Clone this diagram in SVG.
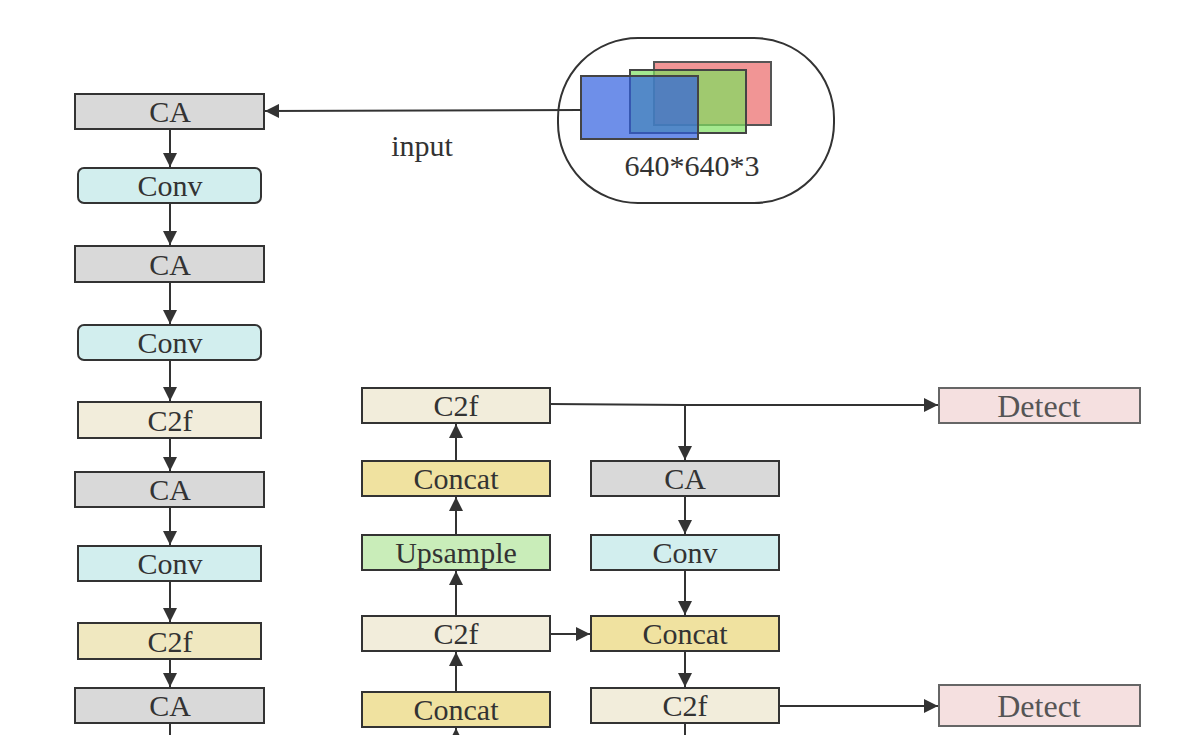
<svg xmlns="http://www.w3.org/2000/svg" width="1177" height="735" viewBox="0 0 1177 735">
<style>
.n rect{stroke:#333;stroke-width:2}
.ca{fill:#d9d9d9}.cv{fill:#d2eeee}.cf{fill:#f2eddb}.cf2{fill:#f0e8c0}.cc{fill:#f0e2a0}.up{fill:#c9edb9}
.dt{fill:#f5e0e0;stroke:#666!important}
text{font-family:"Liberation Serif",serif;font-size:30px;fill:#333;text-anchor:middle}
.c line,.c path{stroke:#333;stroke-width:2;fill:none}
</style>
<defs>
<marker id="b" viewBox="0 0 10 10" refX="10" refY="5" markerWidth="16" markerHeight="14" orient="auto" markerUnits="userSpaceOnUse"><path d="M0,0L10,5L0,10z" fill="#333"/></marker></defs>
<rect width="1177" height="735" fill="#fff"/>
<g id="input"><rect x="558" y="38" width="276" height="165" rx="80" fill="#fff" stroke="#333" stroke-width="2"/>
<rect x="654" y="62" width="117" height="63" fill="#ee7a7a" fill-opacity="0.8" stroke="#555" stroke-width="2"/>
<rect x="630" y="70" width="116" height="63" fill="#7ee060" fill-opacity="0.7" stroke="#444" stroke-width="2"/>
<rect x="581" y="76" width="117" height="63" fill="#3060e0" fill-opacity="0.7" stroke="#444" stroke-width="2"/>
<text x="692" y="176" font-size="24">640*640*3</text></g>
<text x="422" y="156" font-size="34">input</text>
<g class="c">
<line x1="581" y1="110" x2="265" y2="111" marker-end="url(#b)"/>
<line x1="170" y1="129" x2="170" y2="167" marker-end="url(#b)"/>
<line x1="170" y1="203" x2="170" y2="245" marker-end="url(#b)"/>
<line x1="170" y1="282" x2="170" y2="324" marker-end="url(#b)"/>
<line x1="170" y1="360" x2="170" y2="401" marker-end="url(#b)"/>
<line x1="170" y1="438" x2="170" y2="471" marker-end="url(#b)"/>
<line x1="170" y1="507" x2="170" y2="545" marker-end="url(#b)"/>
<line x1="170" y1="581" x2="170" y2="622" marker-end="url(#b)"/>
<line x1="170" y1="659" x2="170" y2="687" marker-end="url(#b)"/>
<line x1="170" y1="723" x2="170" y2="735"/>
<line x1="456" y1="735" x2="456" y2="728" marker-end="url(#b)"/>
<line x1="456" y1="692" x2="456" y2="652" marker-end="url(#b)"/>
<line x1="456" y1="616" x2="456" y2="571" marker-end="url(#b)"/>
<line x1="456" y1="535" x2="456" y2="497" marker-end="url(#b)"/>
<line x1="456" y1="461" x2="456" y2="424" marker-end="url(#b)"/>
<line x1="550" y1="634" x2="590" y2="634" marker-end="url(#b)"/>
<path d="M550,404L685,405L938,405" marker-end="url(#b)"/>
<line x1="685" y1="405" x2="685" y2="460" marker-end="url(#b)"/>
<line x1="685" y1="496" x2="685" y2="534" marker-end="url(#b)"/>
<line x1="685" y1="570" x2="685" y2="615" marker-end="url(#b)"/>
<line x1="685" y1="651" x2="685" y2="687" marker-end="url(#b)"/>
<line x1="685" y1="723" x2="685" y2="735"/>
<line x1="779" y1="706" x2="938" y2="706" marker-end="url(#b)"/>
</g>
<g id="ca1" class="n"><rect class="ca" x="75" y="94" width="189" height="35"/><text x="170" y="122">CA</text></g>
<g id="conv1" class="n"><rect class="cv" x="78" y="168" width="183" height="35" rx="6"/><text x="170" y="196">Conv</text></g>
<g id="ca2" class="n"><rect class="ca" x="75" y="246" width="189" height="36"/><text x="170" y="275">CA</text></g>
<g id="conv2" class="n"><rect class="cv" x="78" y="325" width="183" height="35" rx="6"/><text x="170" y="353">Conv</text></g>
<g id="c2f1" class="n"><rect class="cf" x="78" y="402" width="183" height="36"/><text x="170" y="431">C2f</text></g>
<g id="ca3" class="n"><rect class="ca" x="75" y="472" width="189" height="35"/><text x="170" y="500">CA</text></g>
<g id="conv3" class="n"><rect class="cv" x="78" y="546" width="183" height="35"/><text x="170" y="574">Conv</text></g>
<g id="c2f2" class="n"><rect class="cf2" x="78" y="623" width="183" height="36"/><text x="170" y="652">C2f</text></g>
<g id="ca4" class="n"><rect class="ca" x="75" y="688" width="189" height="35"/><text x="170" y="716">CA</text></g>
<g id="m_c2f" class="n"><rect class="cf" x="362" y="388" width="188" height="35"/><text x="456" y="416">C2f</text></g>
<g id="m_concat1" class="n"><rect class="cc" x="362" y="461" width="188" height="35"/><text x="456" y="489">Concat</text></g>
<g id="m_up" class="n"><rect class="up" x="362" y="535" width="188" height="35"/><text x="456" y="563">Upsample</text></g>
<g id="m_c2f2" class="n"><rect class="cf" x="362" y="616" width="188" height="35"/><text x="456" y="644">C2f</text></g>
<g id="m_concat2" class="n"><rect class="cc" x="362" y="692" width="188" height="35"/><text x="456" y="720">Concat</text></g>
<g id="r_ca" class="n"><rect class="ca" x="591" y="461" width="188" height="35"/><text x="685" y="489">CA</text></g>
<g id="r_conv" class="n"><rect class="cv" x="591" y="535" width="188" height="35"/><text x="685" y="563">Conv</text></g>
<g id="r_concat" class="n"><rect class="cc" x="591" y="616" width="188" height="35"/><text x="685" y="644">Concat</text></g>
<g id="r_c2f" class="n"><rect class="cf" x="591" y="688" width="188" height="35"/><text x="685" y="716">C2f</text></g>
<g id="det1" class="n"><rect class="dt" x="939" y="388" width="201" height="35"/><text x="1039" y="417" style="fill:#555;font-size:32px">Detect</text></g>
<g id="det2" class="n"><rect class="dt" x="939" y="685" width="201" height="41"/><text x="1039" y="717" style="fill:#555;font-size:32px">Detect</text></g>
</svg>
